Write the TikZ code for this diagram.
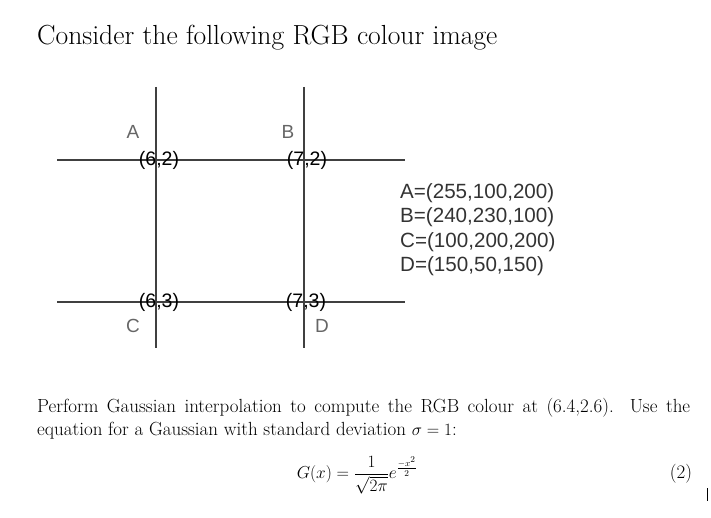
\documentclass[tikz,border=0pt]{standalone}
\usepackage{fontspec}
\newfontfamily\arial{Liberation Sans}
\begin{document}
\begin{tikzpicture}[x=1pt,y=-1pt,
  grid/.style={draw=black!75,line width=1.3pt},
  pt/.style={font=\arial\fontsize{19}{21}\selectfont,text=black!60,inner sep=0},
  coord/.style={font=\arial\fontsize{19.5}{21}\selectfont,text=black,inner sep=0},
  lst/.style={font=\arial\fontsize{20.6}{23}\selectfont,text=black!80,inner sep=0,anchor=west}]
\useasboundingbox (0,0) rectangle (711,518);
\node[anchor=base west,inner sep=0,font=\fontsize{27.6}{30}\selectfont] (title) at (37,45) {Consider the following RGB colour image};
\coordinate (v1t) at (156,87); \coordinate (v1b) at (156,348);
\coordinate (v2t) at (304,87); \coordinate (v2b) at (304,348);
\coordinate (h1l) at (57,160); \coordinate (h1r) at (405,160);
\coordinate (h2l) at (57,302); \coordinate (h2r) at (405,302);
\draw[grid] (v1t) -- (v1b); \draw[grid] (v2t) -- (v2b);
\draw[grid] (h1l) -- (h1r); \draw[grid] (h2l) -- (h2r);
\node[pt] (A) at (133,132) {A};
\node[pt] (B) at (288,132) {B};
\node[pt] (C) at (133,326) {C};
\node[pt] (D) at (322,326) {D};
\node[coord] (c62) at (159,160) {(6,2)};
\node[coord] (c72) at (307,160) {(7,2)};
\node[coord] (c63) at (159,302) {(6,3)};
\node[coord] (c73) at (306,302) {(7,3)};
\node[lst] (la) at (400,193) {A=(255,100,200)};
\node[lst] (lb) at (400,217) {B=(240,230,100)};
\node[lst] (lc) at (400,242) {C=(100,200,200)};
\node[lst] (ld) at (400,266) {D=(150,50,150)};
\node[anchor=north west,inner sep=0,text width=653pt,align=justify,font=\fontsize{19}{23}\selectfont] (para) at (37,398)
 {Perform Gaussian interpolation to compute the RGB colour at (6.4,2.6). Use the equation for a Gaussian with standard deviation $\sigma = 1$:};
\node[inner sep=0,font=\fontsize{19}{23}\selectfont] (eq) at (357,475) {$\displaystyle G(x)=\frac{1}{\sqrt{2\pi}}e^{\frac{-x^2}{2}}$};
\node[inner sep=0,font=\fontsize{19}{23}\selectfont] (num) at (681,474) {(2)};
\coordinate (cu1) at (707,488); \coordinate (cu2) at (707,501);
\draw[line width=1pt] (cu1) -- (cu2);
\end{tikzpicture}
\end{document}
